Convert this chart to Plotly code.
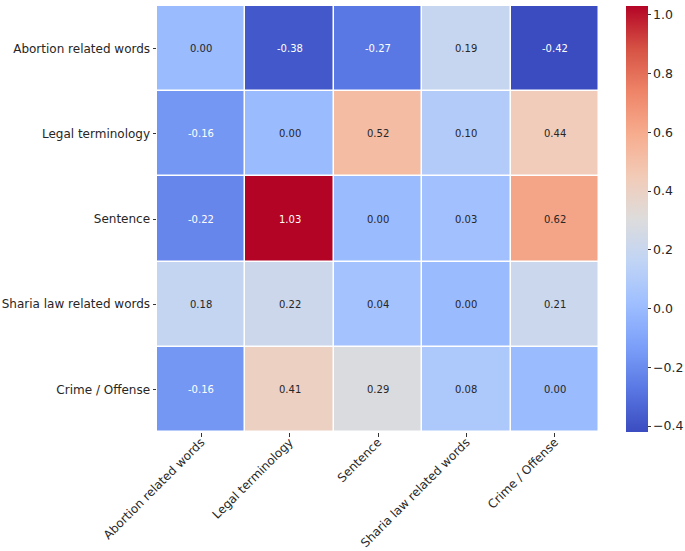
import plotly.graph_objects as go

# categories (same for rows and columns)
labels = ["Abortion related words", "Legal terminology", "Sentence",
          "Sharia law related words", "Crime / Offense"]

# one list per row
abortion_row = [0.00, -0.38, -0.27, 0.19, -0.42]
legal_row = [-0.16, 0.00, 0.52, 0.10, 0.44]
sentence_row = [-0.22, 1.03, 0.00, 0.03, 0.62]
sharia_row = [0.18, 0.22, 0.04, 0.00, 0.21]
crime_row = [-0.16, 0.41, 0.29, 0.08, 0.00]

z = [abortion_row, legal_row, sentence_row, sharia_row, crime_row]

colorbar_ticks = [-0.4, -0.2, 0.0, 0.2, 0.4, 0.6, 0.8, 1.0]

# matplotlib "coolwarm"
coolwarm = [
    [0.0, "#3b4cc0"], [0.1, "#5977e3"], [0.2, "#7b9ff9"], [0.3, "#9ebeff"],
    [0.4, "#c0d4f5"], [0.5, "#dddcdc"], [0.6, "#f2cbb7"], [0.7, "#f7ac8e"],
    [0.8, "#ee8468"], [0.9, "#d65244"], [1.0, "#b40426"],
]

zmin = min(min(r) for r in z)
zmax = max(max(r) for r in z)

fig = go.Figure(go.Heatmap(
    z=z, x=labels, y=labels,
    zmin=zmin, zmax=zmax,
    colorscale=coolwarm,
    xgap=1.5, ygap=1.5,
    hoverongaps=False,
    colorbar=dict(
        x=1.061, xanchor="left", xpad=0, y=0, yanchor="bottom", ypad=0,
        len=1, lenmode="fraction", thickness=22,
        outlinewidth=0, ticks="outside", ticklen=3, tickwidth=1,
        tickcolor="#333", tickvals=colorbar_ticks,
        ticktext=[("\u2212" if t < 0 else "") + f"{abs(t):.1f}" for t in colorbar_ticks],
        tickfont=dict(family="DejaVu Sans", size=12.5, color="#262626"),
    ),
))

# cell labels: white on dark cells, dark on light ones
for i, row in enumerate(z):
    for j, v in enumerate(row):
        t = (v - zmin) / (zmax - zmin)
        color = "white" if (t < 0.2 or t > 0.85) else "#262626"
        fig.add_annotation(x=labels[j], y=labels[i], text=f"{v:.2f}",
                           showarrow=False,
                           font=dict(family="DejaVu Sans", size=10, color=color))

fig.update_xaxes(tickangle=-45, ticks="outside", ticklen=3.5, tickcolor="#333",
                 showgrid=False, zeroline=False, automargin=False,
                 ticklabelstandoff=-6,
                 tickfont=dict(family="DejaVu Sans", size=12, color="#262626"))
fig.update_yaxes(autorange="reversed", ticks="outside", ticklen=3.5,
                 tickcolor="#333", showgrid=False, zeroline=False, automargin=False,
                 tickfont=dict(family="DejaVu Sans", size=12, color="#262626"))

fig.update_layout(
    width=685, height=551,
    margin=dict(l=157, r=86, t=6, b=119, autoexpand=False),
    plot_bgcolor="white", paper_bgcolor="white",
)

# drop the page's default body margin so the figure fills the window
fig.write_html("out.html", config={"displayModeBar": False},
               post_script="document.body.style.margin='0';"
                           "document.body.style.overflow='hidden';")
